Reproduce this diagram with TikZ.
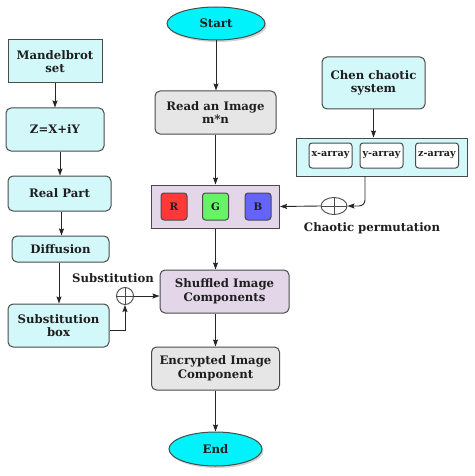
\documentclass[tikz,border=0pt]{standalone}
\usepackage{fontspec}
\setmainfont{DejaVu Serif}
\usetikzlibrary{shapes.geometric,arrows.meta,shadows}
\definecolor{lcyan}{HTML}{D2F8FA}
\definecolor{ocyan}{HTML}{00F2FA}
\definecolor{lgray}{HTML}{E6E6E6}
\definecolor{lpurp}{HTML}{E2D6E8}
\definecolor{bord}{HTML}{4A4A4A}
\definecolor{txt}{HTML}{1E1E1E}
\definecolor{rred}{HTML}{FF3838}
\definecolor{ggreen}{HTML}{66F466}
\definecolor{bblue}{HTML}{6464FA}
\tikzset{
  base/.style={draw=bord, line width=1pt, align=center, text=txt, inner sep=0pt,
    font=\fontsize{11.7}{13.5}\selectfont\bfseries},
  rbox/.style={base, rounded corners=5pt},
  sbox/.style={base},
  oval/.style={base, ellipse, fill=ocyan, drop shadow={shadow xshift=1.5pt, shadow yshift=-2pt, fill=black!35}},
  small/.style={rbox, fill=white, font=\fontsize{9.6}{11}\selectfont\bfseries, rounded corners=3pt},
  ch/.style={rbox, font=\fontsize{10.3}{12}\selectfont\bfseries, rounded corners=3pt, minimum width=26pt, minimum height=27pt},
  arr/.style={-{Stealth[length=7pt,width=5pt,inset=1pt]}, line width=0.9pt, black!85},
  lbl/.style={text=txt, font=\fontsize{11.7}{13.5}\selectfont\bfseries},
}
\begin{document}
\begin{tikzpicture}[x=1pt,y=-1pt]
\useasboundingbox (0,0) rectangle (474,476);
% main column
\node[oval, minimum width=98pt, minimum height=33pt] (start) at (216,23.5) {Start};
\node[rbox, fill=lgray, minimum width=121pt, minimum height=43pt] (read) at (215.5,112.5) {Read an Image\\m*n};
\node[sbox, fill=lpurp, minimum width=128pt, minimum height=43pt] (rgb) at (215.5,206.5) {};
\node[ch, fill=rred] (R) at (174,206.5) {R};
\node[ch, fill=ggreen] (G) at (215.5,206.5) {G};
\node[ch, fill=bblue] (B) at (258,206.5) {B};
\node[rbox, fill=lpurp, minimum width=129pt, minimum height=43pt] (shuf) at (224.5,291.5) {Shuffled Image\\Components};
\node[rbox, fill=lgray, minimum width=128pt, minimum height=43pt] (enc) at (215.5,368.5) {Encrypted Image\\Component};
\node[oval, minimum width=93pt, minimum height=34pt] (end) at (215.5,449) {End};
% right column
\node[rbox, fill=lcyan, minimum width=103pt, minimum height=52pt] (chen) at (373.5,83) {Chen chaotic\\system};
\node[sbox, fill=lcyan, minimum width=171pt, minimum height=38pt] (arrs) at (381.5,157) {};
\node[small, minimum width=43pt, minimum height=25pt] (xa) at (330.5,155.5) {x-array};
\node[small, minimum width=43pt, minimum height=25pt] (ya) at (381.5,155.5) {y-array};
\node[small, minimum width=43pt, minimum height=25pt] (za) at (437,155.5) {z-array};
\node[draw=bord, line width=0.9pt, ellipse, fill=white, minimum width=26pt, minimum height=17pt, inner sep=0pt] (perm) at (334,206) {};
\draw[bord, line width=0.8pt] (perm.north) -- (perm.south) (perm.west) -- (perm.east);
\node[lbl] (permlbl) at (372,228) {Chaotic permutation};
% left column
\node[sbox, fill=lcyan, minimum width=94pt, minimum height=43pt] (mandel) at (55,61.5) {Mandelbrot\\set};
\node[rbox, fill=lcyan, minimum width=98pt, minimum height=43pt] (zx) at (55,129.5) {Z=X+iY};
\node[rbox, fill=lcyan, minimum width=103pt, minimum height=35pt] (real) at (59.5,193.5) {Real Part};
\node[rbox, fill=lcyan, minimum width=97pt, minimum height=26pt] (diff) at (60.5,249) {Diffusion};
\node[rbox, fill=lcyan, minimum width=101pt, minimum height=43pt] (subbox) at (58.5,325.5) {Substitution\\box};
\node[draw=bord, line width=0.9pt, circle, fill=white, minimum size=17pt, inner sep=0pt] (subx) at (125,296) {};
\draw[bord, line width=0.8pt] (subx.north) -- (subx.south) (subx.west) -- (subx.east);
\node[lbl] (sublbl) at (113,278) {Substitution};
% connectors
\draw[arr] (start.south) -- (start.south |- read.north);
\draw[arr] (read.south) -- (rgb.north);
\draw[arr] (rgb.south) -- (rgb.south |- shuf.north);
\draw[arr] (enc.north |- shuf.south) -- (enc.north);
\draw[arr] (enc.south) -- (end.north);
\draw[arr] (chen.south) -- (chen.south |- arrs.north);
\coordinate (tapa) at (365,176);
\draw[arr, rounded corners=6pt] (tapa) -- (tapa |- perm.east) -- (perm.east);
\draw[arr] (perm.west) -- (rgb.east);
\draw[arr] (mandel.south) -- (mandel.south |- zx.north);
\draw[arr] (zx.south -| 60,0) -- (60,0 |- real.north);
\draw[arr] (real.south -| 61.5,0) -- (61.5,0 |- diff.north);
\draw[arr] (diff.south -| 59,0) -- (59,0 |- subbox.north);
\coordinate (sbr) at (subbox.east |- 0,330);
\draw[arr] (sbr) -- (sbr -| subx.south) -- (subx.south);
\draw[arr] (subx.east) -- (shuf.west |- subx.east);
\end{tikzpicture}
\end{document}
